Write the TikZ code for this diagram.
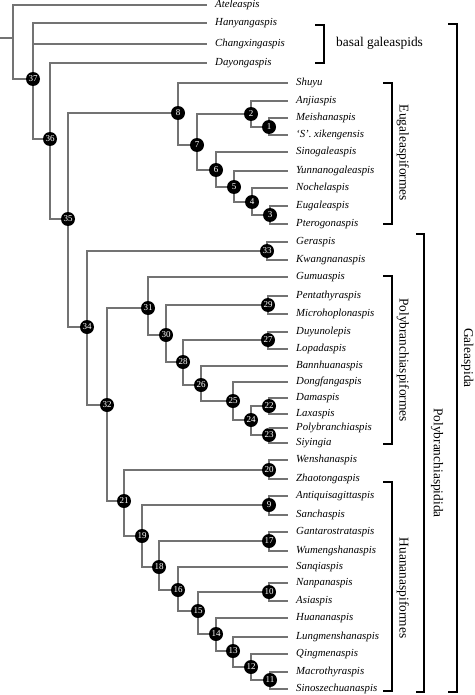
\documentclass[tikz,border=0pt]{standalone}
\usepackage{fontspec}
\setmainfont{Liberation Serif}
\tikzset{
  tree branch/.style={
    draw=black!55, line width=1.1pt
  },
  tree clade/.style={
    circle, fill=black, text=white, minimum size=14pt,
    inner sep=0pt, font=\fontsize{9}{9}\selectfont
  },
  tree taxon/.style={
    anchor=west, inner xsep=8pt, inner ysep=0pt,
    text height=7.5pt, text depth=2.5pt,
    font=\fontsize{10.8}{12}\selectfont\itshape
  },
  group bracket/.style={
    draw=black, line width=1.3pt
  },
  group label/.style={
    font=\fontsize{13.4}{15}\selectfont, inner sep=0pt
  }
}

\begin{document}
\begin{tikzpicture}[x=1pt, y=-1pt]
  \useasboundingbox (0,0) rectangle (474,695);

  % terminal taxa
  \node (tAteleaspis)        [tree taxon] at (207,5)   {Ateleaspis};
  \node (tHanyangaspis)      [tree taxon] at (207,23)  {Hanyangaspis};
  \node (tChangxingaspis)    [tree taxon] at (207,44)  {Changxingaspis};
  \node (tDayongaspis)       [tree taxon] at (207,63)  {Dayongaspis};
  \node (tShuyu)             [tree taxon] at (288,83)  {Shuyu};
  \node (tAnjiaspis)         [tree taxon] at (288,101) {Anjiaspis};
  \node (tMeishanaspis)      [tree taxon] at (288,118) {Meishanaspis};
  \node (tXikengensis)       [tree taxon] at (288,135) {‘S’. xikengensis};
  \node (tSinogaleaspis)     [tree taxon] at (288,152) {Sinogaleaspis};
  \node (tYunnanogaleaspis)  [tree taxon] at (288,171) {Yunnanogaleaspis};
  \node (tNochelaspis)       [tree taxon] at (288,188) {Nochelaspis};
  \node (tEugaleaspis)       [tree taxon] at (288,206) {Eugaleaspis};
  \node (tPterogonaspis)     [tree taxon] at (288,224) {Pterogonaspis};
  \node (tGeraspis)          [tree taxon] at (288,242) {Geraspis};
  \node (tKwangnanaspis)     [tree taxon] at (288,260) {Kwangnanaspis};
  \node (tGumuaspis)         [tree taxon] at (288,277) {Gumuaspis};
  \node (tPentathyraspis)    [tree taxon] at (288,296) {Pentathyraspis};
  \node (tMicrohoplonaspis)  [tree taxon] at (288,314) {Microhoplonaspis};
  \node (tDuyunolepis)       [tree taxon] at (288,332) {Duyunolepis};
  \node (tLopadaspis)        [tree taxon] at (288,349) {Lopadaspis};
  \node (tBannhuanaspis)     [tree taxon] at (288,366) {Bannhuanaspis};
  \node (tDongfangaspis)     [tree taxon] at (288,382) {Dongfangaspis};
  \node (tDamaspis)          [tree taxon] at (288,398) {Damaspis};
  \node (tLaxaspis)          [tree taxon] at (288,414) {Laxaspis};
  \node (tPolybranchiaspis)  [tree taxon] at (288,428) {Polybranchiaspis};
  \node (tSiyingia)          [tree taxon] at (288,443) {Siyingia};
  \node (tWenshanaspis)      [tree taxon] at (288,460) {Wenshanaspis};
  \node (tZhaotongaspis)     [tree taxon] at (288,479) {Zhaotongaspis};
  \node (tAntiquisagittaspis)[tree taxon] at (288,496) {Antiquisagittaspis};
  \node (tSanchaspis)        [tree taxon] at (288,515) {Sanchaspis};
  \node (tGantarostrataspis) [tree taxon] at (288,532) {Gantarostrataspis};
  \node (tWumengshanaspis)   [tree taxon] at (288,551) {Wumengshanaspis};
  \node (tSanqiaspis)        [tree taxon] at (288,567) {Sanqiaspis};
  \node (tNanpanaspis)       [tree taxon] at (288,583) {Nanpanaspis};
  \node (tAsiaspis)          [tree taxon] at (288,601) {Asiaspis};
  \node (tHuananaspis)       [tree taxon] at (288,618) {Huananaspis};
  \node (tLungmenshanaspis)  [tree taxon] at (288,637) {Lungmenshanaspis};
  \node (tQingmenaspis)      [tree taxon] at (288,654) {Qingmenaspis};
  \node (tMacrothyraspis)    [tree taxon] at (288,672) {Macrothyraspis};
  \node (tSinoszechuanaspis) [tree taxon] at (288,689) {Sinoszechuanaspis};

  % numbered clades
  \coordinate (stem) at (0,38);
  \coordinate (root) at (13,38);
  \node (c37) [tree clade] at (33,79)   {37};
  \node (c36) [tree clade] at (50,139)  {36};
  \node (c35) [tree clade] at (68,219)  {35};
  \node (c8)  [tree clade] at (178,113) {8};
  \node (c7)  [tree clade] at (197,145) {7};
  \node (c2)  [tree clade] at (251,114) {2};
  \node (c1)  [tree clade] at (269,127) {1};
  \node (c6)  [tree clade] at (216,170) {6};
  \node (c5)  [tree clade] at (234,187) {5};
  \node (c4)  [tree clade] at (252,202) {4};
  \node (c3)  [tree clade] at (270,215) {3};
  \node (c34) [tree clade] at (87,327)  {34};
  \node (c33) [tree clade] at (267,251) {33};
  \node (c32) [tree clade] at (107,405) {32};
  \node (c31) [tree clade] at (148,308) {31};
  \node (c30) [tree clade] at (166,335) {30};
  \node (c29) [tree clade] at (268,305) {29};
  \node (c28) [tree clade] at (183,362) {28};
  \node (c27) [tree clade] at (268,340) {27};
  \node (c26) [tree clade] at (201,385) {26};
  \node (c25) [tree clade] at (233,401) {25};
  \node (c24) [tree clade] at (251,420) {24};
  \node (c22) [tree clade] at (269,406) {22};
  \node (c23) [tree clade] at (269,435) {23};
  \node (c21) [tree clade] at (124,501) {21};
  \node (c20) [tree clade] at (269,470) {20};
  \node (c19) [tree clade] at (142,536) {19};
  \node (c9)  [tree clade] at (269,505) {9};
  \node (c18) [tree clade] at (159,567) {18};
  \node (c17) [tree clade] at (269,541) {17};
  \node (c16) [tree clade] at (178,590) {16};
  \node (c15) [tree clade] at (198,611) {15};
  \node (c10) [tree clade] at (269,592) {10};
  \node (c14) [tree clade] at (216,634) {14};
  \node (c13) [tree clade] at (233,651) {13};
  \node (c12) [tree clade] at (251,667) {12};
  \node (c11) [tree clade] at (270,680) {11};

  % branches
  \draw [tree branch] (stem) -- (root);
  \draw [tree branch] (root) |- (tAteleaspis) (root) |- (c37);
  \draw [tree branch] (c37) |- (tHanyangaspis) (c37) |- (tChangxingaspis) (c37) |- (c36);
  \draw [tree branch] (c36) |- (tDayongaspis) (c36) |- (c35);
  \draw [tree branch] (c35) |- (c8) (c35) |- (c34);
  \draw [tree branch] (c8) |- (tShuyu) (c8) |- (c7);
  \draw [tree branch] (c7) |- (c2) (c7) |- (c6);
  \draw [tree branch] (c2) |- (tAnjiaspis) (c2) |- (c1);
  \draw [tree branch] (c1) |- (tMeishanaspis) (c1) |- (tXikengensis);
  \draw [tree branch] (c6) |- (tSinogaleaspis) (c6) |- (c5);
  \draw [tree branch] (c5) |- (tYunnanogaleaspis) (c5) |- (c4);
  \draw [tree branch] (c4) |- (tNochelaspis) (c4) |- (c3);
  \draw [tree branch] (c3) |- (tEugaleaspis) (c3) |- (tPterogonaspis);
  \draw [tree branch] (c34) |- (c33) (c34) |- (c32);
  \draw [tree branch] (c33) |- (tGeraspis) (c33) |- (tKwangnanaspis);
  \draw [tree branch] (c32) |- (c31) (c32) |- (c21);
  \draw [tree branch] (c31) |- (tGumuaspis) (c31) |- (c30);
  \draw [tree branch] (c30) |- (c29) (c30) |- (c28);
  \draw [tree branch] (c29) |- (tPentathyraspis) (c29) |- (tMicrohoplonaspis);
  \draw [tree branch] (c28) |- (c27) (c28) |- (c26);
  \draw [tree branch] (c27) |- (tDuyunolepis) (c27) |- (tLopadaspis);
  \draw [tree branch] (c26) |- (tBannhuanaspis) (c26) |- (c25);
  \draw [tree branch] (c25) |- (tDongfangaspis) (c25) |- (c24);
  \draw [tree branch] (c24) |- (c22) (c24) |- (c23);
  \draw [tree branch] (c22) |- (tDamaspis) (c22) |- (tLaxaspis);
  \draw [tree branch] (c23) |- (tPolybranchiaspis) (c23) |- (tSiyingia);
  \draw [tree branch] (c21) |- (c20) (c21) |- (c19);
  \draw [tree branch] (c20) |- (tWenshanaspis) (c20) |- (tZhaotongaspis);
  \draw [tree branch] (c19) |- (c9) (c19) |- (c18);
  \draw [tree branch] (c9) |- (tAntiquisagittaspis) (c9) |- (tSanchaspis);
  \draw [tree branch] (c18) |- (c17) (c18) |- (c16);
  \draw [tree branch] (c17) |- (tGantarostrataspis) (c17) |- (tWumengshanaspis);
  \draw [tree branch] (c16) |- (tSanqiaspis) (c16) |- (c15);
  \draw [tree branch] (c15) |- (c10) (c15) |- (c14);
  \draw [tree branch] (c10) |- (tNanpanaspis) (c10) |- (tAsiaspis);
  \draw [tree branch] (c14) |- (tHuananaspis) (c14) |- (c13);
  \draw [tree branch] (c13) |- (tLungmenshanaspis) (c13) |- (c12);
  \draw [tree branch] (c12) |- (tQingmenaspis) (c12) |- (c11);
  \draw [tree branch] (c11) |- (tMacrothyraspis) (c11) |- (tSinoszechuanaspis);

  % group brackets
  \draw [group bracket] (315,25) -- (324,25) -- (324,63) -- (315,63);
  \draw [group bracket] (383,83) -- (392,83) -- (392,224) -- (383,224);
  \draw [group bracket] (383,276) -- (392,276) -- (392,444) -- (383,444);
  \draw [group bracket] (383,482) -- (392,482) -- (392,691) -- (383,691);
  \draw [group bracket] (416,234) -- (424,234) -- (424,692) -- (416,692);
  \draw [group bracket] (448,24) -- (457,24) -- (457,692) -- (448,692);

  \node (gBasal)   [group label, anchor=west] at (336,43) {basal galeaspids};
  \node (gEuga)    [group label, rotate=-90] at (403,153) {Eugaleaspiformes};
  \node (gPolyfor) [group label, rotate=-90] at (403,360) {Polybranchiaspiformes};
  \node (gHuana)   [group label, rotate=-90] at (403,588) {Huananaspiformes};
  \node (gPolyda)  [group label, rotate=-90] at (437,463) {Polybranchiaspidida};
  \node (gGalea)   [group label, rotate=-90, anchor=north] at (473.5,358) {Galeaspida};
\end{tikzpicture}
\end{document}
